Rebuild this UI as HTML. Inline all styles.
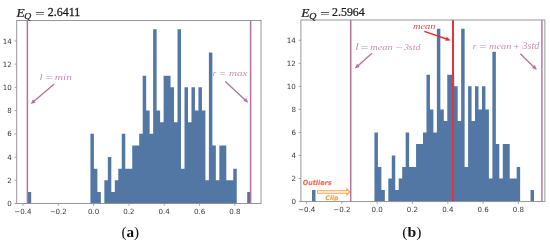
<!DOCTYPE html>
<html><head><meta charset="utf-8"><style>
html,body{margin:0;padding:0;background:#fff;}
body{width:550px;height:244px;overflow:hidden;}
svg{display:block;filter:blur(0.4px);}
.tk{font-family:"DejaVu Sans",sans-serif;font-size:7.1px;fill:#3a3a3a;}
.ann{font-family:"Liberation Serif",serif;font-style:italic;fill:#c690b0;}
.ti{font-family:"Liberation Serif",serif;font-style:italic;fill:#1a1a1a;stroke:#1a1a1a;stroke-width:0.25px;}
.annr{font-family:"Liberation Serif",serif;font-style:italic;fill:#ec4753;}
.cap{font-family:"Liberation Serif",serif;fill:#111;}
.ol{font-family:"DejaVu Sans",sans-serif;font-style:italic;font-weight:bold;fill:#f86c52;stroke:#f86c52;stroke-width:0.15px;}
.cl{font-family:"DejaVu Sans",sans-serif;font-style:italic;font-weight:bold;fill:#f7a045;stroke:#f7a045;stroke-width:0.15px;}
</style></head><body>
<svg width="550" height="244" viewBox="0 0 550 244">
<rect width="550" height="244" fill="#fff"/>
<path d="M27.70 203.50h3.484v-11.61h-3.484z M90.42 203.50h3.484v-69.68h-3.484z M93.90 203.50h3.484v-34.84h-3.484z M97.39 203.50h3.484v-11.61h-3.484z M104.36 203.50h3.484v-23.23h-3.484z M107.84 203.50h3.484v-46.45h-3.484z M111.33 203.50h3.484v-11.61h-3.484z M114.81 203.50h3.484v-23.23h-3.484z M118.29 203.50h3.484v-34.84h-3.484z M121.78 203.50h3.484v-69.68h-3.484z M125.26 203.50h3.484v-34.84h-3.484z M128.75 203.50h3.484v-34.84h-3.484z M132.23 203.50h3.484v-58.06h-3.484z M135.72 203.50h3.484v-58.06h-3.484z M139.20 203.50h3.484v-69.68h-3.484z M142.68 203.50h3.484v-127.74h-3.484z M146.17 203.50h3.484v-92.90h-3.484z M149.65 203.50h3.484v-69.68h-3.484z M153.14 203.50h3.484v-174.19h-3.484z M156.62 203.50h3.484v-92.90h-3.484z M160.11 203.50h3.484v-81.29h-3.484z M163.59 203.50h3.484v-127.74h-3.484z M167.07 203.50h3.484v-127.74h-3.484z M170.56 203.50h3.484v-116.13h-3.484z M174.04 203.50h3.484v-81.29h-3.484z M177.53 203.50h3.484v-174.19h-3.484z M181.01 203.50h3.484v-34.84h-3.484z M184.50 203.50h3.484v-116.13h-3.484z M187.98 203.50h3.484v-81.29h-3.484z M191.47 203.50h3.484v-116.13h-3.484z M194.95 203.50h3.484v-92.90h-3.484z M198.43 203.50h3.484v-116.13h-3.484z M201.92 203.50h3.484v-92.90h-3.484z M205.40 203.50h3.484v-23.23h-3.484z M208.89 203.50h3.484v-150.97h-3.484z M212.37 203.50h3.484v-58.06h-3.484z M215.86 203.50h3.484v-23.23h-3.484z M219.34 203.50h3.484v-58.06h-3.484z M222.82 203.50h3.484v-58.06h-3.484z M226.31 203.50h3.484v-23.23h-3.484z M229.79 203.50h3.484v-23.23h-3.484z M233.28 203.50h3.484v-34.84h-3.484z M247.22 203.50h3.484v-11.61h-3.484z" fill="#5277a5"/>
<line x1="14.50" y1="203.50" x2="16.70" y2="203.50" stroke="#8c8c8c" stroke-width="0.8"/>
<text x="11.70" y="206.10" class="tk" text-anchor="end">0</text>
<line x1="14.50" y1="180.27" x2="16.70" y2="180.27" stroke="#8c8c8c" stroke-width="0.8"/>
<text x="11.70" y="182.87" class="tk" text-anchor="end">2</text>
<line x1="14.50" y1="157.05" x2="16.70" y2="157.05" stroke="#8c8c8c" stroke-width="0.8"/>
<text x="11.70" y="159.65" class="tk" text-anchor="end">4</text>
<line x1="14.50" y1="133.82" x2="16.70" y2="133.82" stroke="#8c8c8c" stroke-width="0.8"/>
<text x="11.70" y="136.42" class="tk" text-anchor="end">6</text>
<line x1="14.50" y1="110.60" x2="16.70" y2="110.60" stroke="#8c8c8c" stroke-width="0.8"/>
<text x="11.70" y="113.20" class="tk" text-anchor="end">8</text>
<line x1="14.50" y1="87.37" x2="16.70" y2="87.37" stroke="#8c8c8c" stroke-width="0.8"/>
<text x="11.70" y="89.97" class="tk" text-anchor="end">10</text>
<line x1="14.50" y1="64.14" x2="16.70" y2="64.14" stroke="#8c8c8c" stroke-width="0.8"/>
<text x="11.70" y="66.74" class="tk" text-anchor="end">12</text>
<line x1="14.50" y1="40.92" x2="16.70" y2="40.92" stroke="#8c8c8c" stroke-width="0.8"/>
<text x="11.70" y="43.52" class="tk" text-anchor="end">14</text>
<line x1="22.96" y1="203.50" x2="22.96" y2="205.70" stroke="#8c8c8c" stroke-width="0.8"/>
<text x="22.96" y="213.80" class="tk" text-anchor="middle">−0.4</text>
<line x1="58.28" y1="203.50" x2="58.28" y2="205.70" stroke="#8c8c8c" stroke-width="0.8"/>
<text x="58.28" y="213.80" class="tk" text-anchor="middle">−0.2</text>
<line x1="93.60" y1="203.50" x2="93.60" y2="205.70" stroke="#8c8c8c" stroke-width="0.8"/>
<text x="93.60" y="213.80" class="tk" text-anchor="middle">0.0</text>
<line x1="128.92" y1="203.50" x2="128.92" y2="205.70" stroke="#8c8c8c" stroke-width="0.8"/>
<text x="128.92" y="213.80" class="tk" text-anchor="middle">0.2</text>
<line x1="164.24" y1="203.50" x2="164.24" y2="205.70" stroke="#8c8c8c" stroke-width="0.8"/>
<text x="164.24" y="213.80" class="tk" text-anchor="middle">0.4</text>
<line x1="199.56" y1="203.50" x2="199.56" y2="205.70" stroke="#8c8c8c" stroke-width="0.8"/>
<text x="199.56" y="213.80" class="tk" text-anchor="middle">0.6</text>
<line x1="234.88" y1="203.50" x2="234.88" y2="205.70" stroke="#8c8c8c" stroke-width="0.8"/>
<text x="234.88" y="213.80" class="tk" text-anchor="middle">0.8</text>
<path d="M312.00 201.60h3.469v-11.53h-3.469z M374.44 201.60h3.469v-69.16h-3.469z M377.91 201.60h3.469v-34.58h-3.469z M381.38 201.60h3.469v-11.53h-3.469z M388.31 201.60h3.469v-23.05h-3.469z M391.78 201.60h3.469v-46.11h-3.469z M395.25 201.60h3.469v-11.53h-3.469z M398.72 201.60h3.469v-23.05h-3.469z M402.19 201.60h3.469v-34.58h-3.469z M405.66 201.60h3.469v-69.16h-3.469z M409.12 201.60h3.469v-34.58h-3.469z M412.59 201.60h3.469v-34.58h-3.469z M416.06 201.60h3.469v-57.63h-3.469z M419.53 201.60h3.469v-57.63h-3.469z M423.00 201.60h3.469v-69.16h-3.469z M426.47 201.60h3.469v-126.80h-3.469z M429.94 201.60h3.469v-92.22h-3.469z M433.41 201.60h3.469v-69.16h-3.469z M436.88 201.60h3.469v-172.91h-3.469z M440.34 201.60h3.469v-92.22h-3.469z M443.81 201.60h3.469v-80.69h-3.469z M447.28 201.60h3.469v-126.80h-3.469z M450.75 201.60h3.469v-126.80h-3.469z M454.22 201.60h3.469v-115.27h-3.469z M457.69 201.60h3.469v-80.69h-3.469z M461.16 201.60h3.469v-172.91h-3.469z M464.62 201.60h3.469v-34.58h-3.469z M468.09 201.60h3.469v-115.27h-3.469z M471.56 201.60h3.469v-80.69h-3.469z M475.03 201.60h3.469v-115.27h-3.469z M478.50 201.60h3.469v-92.22h-3.469z M481.97 201.60h3.469v-115.27h-3.469z M485.44 201.60h3.469v-92.22h-3.469z M488.91 201.60h3.469v-23.05h-3.469z M492.38 201.60h3.469v-149.85h-3.469z M495.84 201.60h3.469v-57.63h-3.469z M499.31 201.60h3.469v-23.05h-3.469z M502.78 201.60h3.469v-57.63h-3.469z M506.25 201.60h3.469v-57.63h-3.469z M509.72 201.60h3.469v-23.05h-3.469z M513.19 201.60h3.469v-23.05h-3.469z M516.66 201.60h3.469v-34.58h-3.469z M530.53 201.60h3.469v-11.53h-3.469z" fill="#5277a5"/>
<line x1="298.70" y1="201.60" x2="300.90" y2="201.60" stroke="#8c8c8c" stroke-width="0.8"/>
<text x="295.90" y="204.20" class="tk" text-anchor="end">0</text>
<line x1="298.70" y1="178.55" x2="300.90" y2="178.55" stroke="#8c8c8c" stroke-width="0.8"/>
<text x="295.90" y="181.15" class="tk" text-anchor="end">2</text>
<line x1="298.70" y1="155.49" x2="300.90" y2="155.49" stroke="#8c8c8c" stroke-width="0.8"/>
<text x="295.90" y="158.09" class="tk" text-anchor="end">4</text>
<line x1="298.70" y1="132.44" x2="300.90" y2="132.44" stroke="#8c8c8c" stroke-width="0.8"/>
<text x="295.90" y="135.04" class="tk" text-anchor="end">6</text>
<line x1="298.70" y1="109.38" x2="300.90" y2="109.38" stroke="#8c8c8c" stroke-width="0.8"/>
<text x="295.90" y="111.98" class="tk" text-anchor="end">8</text>
<line x1="298.70" y1="86.33" x2="300.90" y2="86.33" stroke="#8c8c8c" stroke-width="0.8"/>
<text x="295.90" y="88.93" class="tk" text-anchor="end">10</text>
<line x1="298.70" y1="63.28" x2="300.90" y2="63.28" stroke="#8c8c8c" stroke-width="0.8"/>
<text x="295.90" y="65.88" class="tk" text-anchor="end">12</text>
<line x1="298.70" y1="40.22" x2="300.90" y2="40.22" stroke="#8c8c8c" stroke-width="0.8"/>
<text x="295.90" y="42.82" class="tk" text-anchor="end">14</text>
<line x1="306.60" y1="201.60" x2="306.60" y2="203.80" stroke="#8c8c8c" stroke-width="0.8"/>
<text x="306.60" y="211.90" class="tk" text-anchor="middle">−0.4</text>
<line x1="341.90" y1="201.60" x2="341.90" y2="203.80" stroke="#8c8c8c" stroke-width="0.8"/>
<text x="341.90" y="211.90" class="tk" text-anchor="middle">−0.2</text>
<line x1="377.20" y1="201.60" x2="377.20" y2="203.80" stroke="#8c8c8c" stroke-width="0.8"/>
<text x="377.20" y="211.90" class="tk" text-anchor="middle">0.0</text>
<line x1="412.50" y1="201.60" x2="412.50" y2="203.80" stroke="#8c8c8c" stroke-width="0.8"/>
<text x="412.50" y="211.90" class="tk" text-anchor="middle">0.2</text>
<line x1="447.80" y1="201.60" x2="447.80" y2="203.80" stroke="#8c8c8c" stroke-width="0.8"/>
<text x="447.80" y="211.90" class="tk" text-anchor="middle">0.4</text>
<line x1="483.10" y1="201.60" x2="483.10" y2="203.80" stroke="#8c8c8c" stroke-width="0.8"/>
<text x="483.10" y="211.90" class="tk" text-anchor="middle">0.6</text>
<line x1="518.40" y1="201.60" x2="518.40" y2="203.80" stroke="#8c8c8c" stroke-width="0.8"/>
<text x="518.40" y="211.90" class="tk" text-anchor="middle">0.8</text>
<line x1="27.40" y1="20.50" x2="27.40" y2="203.50" stroke="#b3739a" stroke-width="1.5"/>
<line x1="250.60" y1="20.50" x2="250.60" y2="203.50" stroke="#b3739a" stroke-width="1.5"/>
<line x1="54.20" y1="83.90" x2="33.97" y2="101.21" stroke="#b3739a" stroke-width="1.35"/><path d="M30.70 104.00L32.98 99.28L35.71 102.48z" fill="#b3739a"/>
<line x1="225.30" y1="81.50" x2="245.15" y2="99.88" stroke="#b3739a" stroke-width="1.35"/><path d="M248.30 102.80L243.35 101.08L246.21 98.00z" fill="#b3739a"/>
<line x1="350.70" y1="20.00" x2="350.70" y2="201.60" stroke="#b3739a" stroke-width="1.5"/>
<line x1="541.90" y1="20.00" x2="541.90" y2="201.60" stroke="#bb82a6" stroke-width="1.6"/>
<rect x="452.0" y="20.00" width="2" height="181.60" fill="#e8323a"/>
<line x1="372.00" y1="53.30" x2="358.02" y2="65.65" stroke="#b3739a" stroke-width="1.35"/><path d="M354.80 68.50L357.01 63.75L359.79 66.90z" fill="#b3739a"/>
<line x1="520.30" y1="53.70" x2="533.82" y2="66.90" stroke="#b3739a" stroke-width="1.35"/><path d="M536.90 69.90L532.00 68.05L534.93 65.04z" fill="#b3739a"/>
<line x1="424.30" y1="31.40" x2="446.53" y2="39.01" stroke="#e8282b" stroke-width="1.35"/><path d="M450.60 40.40L445.38 40.83L446.74 36.86z" fill="#e8282b"/>
<path d="M317.5 190.75H346.9V188.9L349.7 191.95L346.9 195.0V193.15H317.5z" fill="#fff" stroke="#f7a045" stroke-width="1.05" stroke-linejoin="miter"/>
<rect x="16.70" y="20.50" width="244.30" height="183.00" fill="none" stroke="#8c8c8c" stroke-width="0.9"/>
<rect x="300.90" y="20.00" width="244.00" height="181.60" fill="none" stroke="#8c8c8c" stroke-width="0.9"/>
<text class="ti" style="font-size:11.846px" transform="translate(16.40,16.50) scale(1.1396,1)">E</text>
<text class="ti" style="font-size:8.125px" transform="translate(24.32,18.68) scale(1.1929,1)">Q</text>
<text class="ti" style="font-style:normal;stroke:none;font-size:12.000px" transform="translate(35.04,18.00) scale(1.4386,1)">=</text>
<text class="ti" style="font-style:normal;font-size:11.538px" transform="translate(47.80,16.20) scale(1.0400,1)">2.6411</text>
<text class="ti" style="font-size:11.846px" transform="translate(301.30,16.50) scale(1.1396,1)">E</text>
<text class="ti" style="font-size:8.125px" transform="translate(309.21,18.68) scale(1.2118,1)">Q</text>
<text class="ti" style="font-style:normal;stroke:none;font-size:12.000px" transform="translate(319.94,18.00) scale(1.4386,1)">=</text>
<text class="ti" style="font-style:normal;font-size:12.000px" transform="translate(332.11,16.30) scale(0.9875,1)">2.5964</text>
<text class="ann" style="font-size:9.000px" transform="translate(39.55,79.80) scale(1.2222,1)">l</text>
<text class="ann" style="font-style:normal;font-size:10.000px" transform="translate(45.38,80.90) scale(1.2421,1)">=</text>
<text class="ann" style="font-size:9.000px" transform="translate(54.73,79.80) scale(1.2698,1)">min</text>
<text class="ann" style="font-size:9.000px" transform="translate(212.68,76.29) scale(1.0000,1)">r</text>
<text class="ann" style="font-style:normal;font-size:10.000px" transform="translate(219.78,77.40) scale(1.0316,1)">=</text>
<text class="ann" style="font-size:9.000px" transform="translate(228.95,76.29) scale(1.2292,1)">max</text>
<text class="ann" style="font-size:9.286px" transform="translate(355.18,49.80) scale(1.3462,1)">l</text>
<text class="ann" style="font-style:normal;font-size:10.000px" transform="translate(360.49,50.90) scale(1.4105,1)">=</text>
<text class="ann" style="font-size:9.000px" transform="translate(370.18,49.94) scale(1.1513,1)">mean</text>
<text class="ann" style="font-style:normal;font-size:9.000px" transform="translate(395.15,50.22) scale(1.4503,1)">−</text>
<text class="ann" style="font-size:9.000px" transform="translate(403.90,49.80) scale(1.1012,1)">3std</text>
<text class="ann" style="font-size:9.000px" transform="translate(472.68,48.99) scale(1.0000,1)">r</text>
<text class="ann" style="font-style:normal;font-size:10.000px" transform="translate(479.48,50.00) scale(1.2421,1)">=</text>
<text class="ann" style="font-size:9.000px" transform="translate(489.08,48.99) scale(1.1459,1)">mean</text>
<text class="ann" style="font-style:normal;font-size:9.000px" transform="translate(513.12,49.08) scale(1.2865,1)">+</text>
<text class="ann" style="font-size:9.429px" transform="translate(522.50,48.90) scale(1.0638,1)">3std</text>
<text class="annr" style="font-size:9.000px" transform="translate(412.98,29.19) scale(1.1566,1)">mean</text>
<text class="ol" style="font-size:6.968px" transform="translate(302.74,184.80) scale(0.9211,1)">Outliers</text>
<text class="cl" style="font-size:6.400px" transform="translate(325.55,199.66) scale(0.9413,1)">Clip</text>
<text class="cap" style="font-style:normal;font-size:14.222px" transform="translate(121.44,236.66) scale(1.0661,1)">(<tspan style="font-weight:bold">a</tspan>)</text>
<text class="cap" style="font-style:normal;font-size:14.333px" transform="translate(402.31,236.73) scale(1.0977,1)">(<tspan style="font-weight:bold">b</tspan>)</text>
</svg>
</body></html>
